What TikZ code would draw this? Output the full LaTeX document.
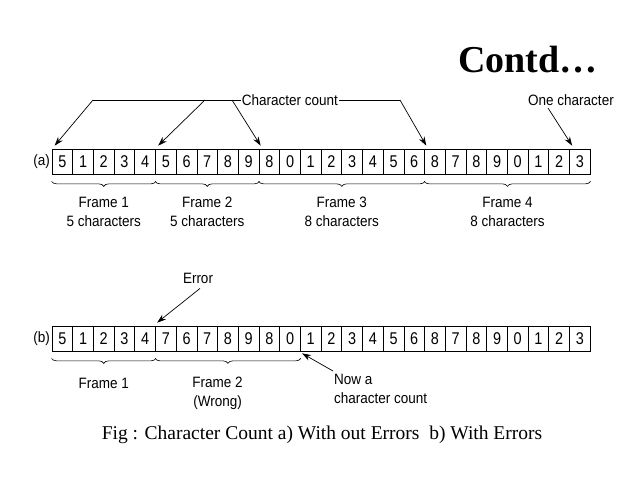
\documentclass[tikz,border=0pt]{standalone}
\usepackage{fontspec}
\setmainfont{Liberation Sans}
\newfontfamily\serifx{Liberation Serif}
\usetikzlibrary{decorations.pathreplacing,arrows.meta}
\begin{document}
\begin{tikzpicture}[x=1pt,y=-1pt,
  cell/.style={draw,minimum width=20.7pt,minimum height=25pt,inner sep=0pt,text height=12pt,text depth=0pt,font=\fontsize{17}{17}\selectfont\addfontfeatures{FakeStretch=0.85},line width=0.7pt},
  lbl/.style={font=\fontsize{15}{19}\selectfont\addfontfeatures{FakeStretch=0.9},inner sep=1pt},
  br/.style={decorate,decoration={brace,mirror,amplitude=5pt},line width=0.6pt},
  arr/.style={-{Stealth[length=9pt,width=6pt]},line width=0.7pt}]
\useasboundingbox (0,0) rectangle (638,478);
\node[font=\serifx\bfseries\fontsize{38}{38}\selectfont] (title) at (528,60) {Contd…};
\foreach [count=\i from 0] \v in {5,1,2,3,4,5,6,7,8,9,8,0,1,2,3,4,5,6,8,7,8,9,0,1,2,3}
  \node[cell] (a\i) at ({62.35+\i*20.7},161.5) {\v};
\foreach [count=\i from 0] \v in {5,1,2,3,4,7,6,7,8,9,8,0,1,2,3,4,5,6,8,7,8,9,0,1,2,3}
  \node[cell] (b\i) at ({62.35+\i*20.7},338.5) {\v};
\node[lbl,anchor=east,text height=11pt,text depth=3pt] (la) at (51,162) {(a)};
\node[lbl,anchor=east,text height=11pt,text depth=3pt] (lb) at (51,339) {(b)};
% braces a
\draw[br] ([yshift=-7pt]a0.south west) -- ([yshift=-7pt]a4.south east);
\draw[br] ([yshift=-7pt]a5.south west) -- ([yshift=-7pt]a9.south east);
\draw[br] ([yshift=-7pt]a10.south west) -- ([yshift=-7pt]a17.south east);
\draw[br] ([yshift=-7pt]a18.south west) -- ([yshift=-7pt]a25.south east);
\node[lbl,align=center] (fa1) at (a2.south|-0,212) {Frame 1\\5 characters};
\node[lbl,align=center] (fa2) at (a7.south|-0,212) {Frame 2\\5 characters};
\node[lbl,align=center] (fa3) at ([xshift=10.35pt]a13.south|-0,212) {Frame 3\\8 characters};
\node[lbl,align=center] (fa4) at ([xshift=10.35pt]a21.south|-0,212) {Frame 4\\8 characters};
% character count
\node[lbl] (cc) at (290,100) {Character count};
\coordinate (h1) at (93,100);
\coordinate (h2) at (205,100);
\coordinate (h3) at (232,100);
\coordinate (h4) at (400,100);
\draw[line width=0.7pt] (cc.west) -- (h1);
\draw[line width=0.7pt] (cc.east) -- (h4);
\draw[arr] (h1) -- ([xshift=3pt,yshift=3pt]a0.north west);
\draw[arr] (h2) -- ([xshift=3pt,yshift=3pt]a5.north west);
\draw[arr] (h3) -- ([xshift=2pt,yshift=3pt]a10.north west);
\draw[arr] (h4) -- ([xshift=2pt,yshift=3pt]a18.north west);
\node[lbl] (one) at (571,100) {One character};
\draw[arr] (548,108) -- ([xshift=3pt,yshift=3pt]a25.north west);
% braces b
\draw[br] ([yshift=-7pt]b0.south west) -- ([yshift=-7pt]b4.south east);
\draw[br] ([yshift=-7pt]b5.south west) -- ([yshift=-7pt]b11.south east);
\node[lbl] (fb1) at (b2.south|-0,383) {Frame 1};
\node[lbl,align=center] (fb2) at ([xshift=-10.35pt]b8.south|-0,393) {Frame 2\\(Wrong)};
\node[lbl] (err) at (198,278) {Error};
\draw[arr] (err.south) ++(2,4) -- ([xshift=2pt,yshift=3pt]b5.north west);
\node[lbl,align=left,anchor=north west] (now) at (333,373) {Now a\\character count};
\draw[arr] (now.north west) ++(0,-2) -- ([xshift=2pt,yshift=-2pt]b12.south west);
\node[font=\serifx\fontsize{19.5}{19.5}\selectfont] (cap) at (322,435) {Fig : Character Count a) With out Errors~~b) With Errors};
\end{tikzpicture}
\end{document}
